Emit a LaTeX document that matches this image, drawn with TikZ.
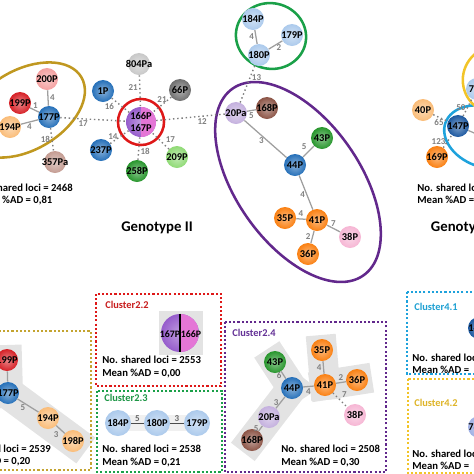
\documentclass[tikz,border=0pt]{standalone}
\usepackage{fontspec}
\setmainfont{Carlito}
\usetikzlibrary{backgrounds}
\definecolor{nodeBlue}{RGB}{38,112,185}
\definecolor{nodeNavy}{RGB}{28,88,160}
\definecolor{nodeRed}{RGB}{214,32,38}
\definecolor{nodePink}{RGB}{244,160,160}
\definecolor{nodePeach}{RGB}{250,188,120}
\definecolor{nodeTaupe}{RGB}{196,156,146}
\definecolor{nodeSilver}{RGB}{200,200,200}
\definecolor{nodeSlate}{RGB}{112,112,112}
\definecolor{nodeGreen}{RGB}{40,150,45}
\definecolor{nodeLime}{RGB}{144,218,118}
\definecolor{nodeLilac}{RGB}{196,176,222}
\definecolor{nodeBrown}{RGB}{140,84,70}
\definecolor{nodeOrange}{RGB}{250,128,18}
\definecolor{nodeRose}{RGB}{246,182,212}
\definecolor{nodeSky}{RGB}{172,202,236}
\definecolor{nodeIris}{RGB}{160,176,228}
\definecolor{nodePurple}{RGB}{150,92,204}
\definecolor{nodeMagenta}{RGB}{228,118,214}
\definecolor{ringGold}{RGB}{192,152,32}
\definecolor{ringRed}{RGB}{222,24,24}
\definecolor{ringGreen}{RGB}{26,160,72}
\definecolor{ringPurple}{RGB}{98,40,140}
\definecolor{ringCyan}{RGB}{30,162,220}
\definecolor{ringYellow}{RGB}{242,196,40}
\definecolor{boxOlive}{RGB}{196,164,48}
\definecolor{titleRed}{RGB}{200,30,30}
\definecolor{titleGreen}{RGB}{30,150,70}
\definecolor{titlePurple}{RGB}{100,50,150}
\definecolor{titleCyan}{RGB}{30,160,210}
\definecolor{titleGold}{RGB}{222,180,40}
\newcommand{\isoTxt}[1]{\makebox[0pt]{#1}}
\tikzset{
  mstNode/.style = {circle, minimum size=0.55cm, inner sep=0pt,
                    inner color=#1!55!white, outer color=#1,
                    font=\fontsize{7.4}{8.5}\selectfont\bfseries},
  mstLink/.style = {draw=gray!75, line width=0.9pt},
  mstDot/.style  = {draw=gray!55!black!70, line width=1pt, dotted},
  mstLbl/.style  = {font=\fontsize{6.4}{7}\selectfont\bfseries, text=gray,
                    inner sep=1pt},
  grpRing/.style = {draw=#1, line width=1.8pt},
  clBox/.style   = {draw=#1, line width=1.8pt, dash pattern=on 1.5pt off 1.5pt},
  clTitle/.style = {anchor=west, text=#1, inner sep=0pt,
                    font=\fontsize{7.4}{8}\selectfont\bfseries},
  clStat/.style  = {align=left, inner sep=0pt,
                    font=\fontsize{7.6}{8.6}\selectfont\bfseries},
  clBand/.style  = {draw=gray!22, line width=#1, line cap=rect},
}
\begin{document}
\begin{tikzpicture}[x=0.025cm, y=-0.025cm]
  \useasboundingbox (0,0) rectangle (474,474);
  \clip (0,0) rectangle (474,474);

  % group rings
  \draw[grpRing=ringGold, rotate around={30:(25,110)}] (25,110) ellipse [x radius=1.63cm, y radius=1cm];
  \draw[grpRing=ringGreen, rotate around={-12:(271,36)}] (271,36) ellipse [x radius=0.88cm, y radius=0.82cm];
  \draw[grpRing=ringPurple, rotate around={-55:(298,182)}] (298,182) ellipse [x radius=2.85cm, y radius=1.55cm];
  \draw[grpRing=ringCyan, rotate around={-20:(485,137)}] (485,137) ellipse [x radius=1.05cm, y radius=0.75cm];
  \draw[grpRing=ringYellow] (500,80) ellipse [x radius=0.93cm, y radius=0.88cm];

  % genotype II
  \node[mstNode=nodePink]   (g200) at (47,79)   {\isoTxt{200P}};
  \node[mstNode=nodeRed]    (g199) at (20,103)  {\isoTxt{199P}};
  \node[mstNode=nodeBlue]   (g177) at (49,117)  {\isoTxt{177P}};
  \node[mstNode=nodePeach]  (g194) at (10,127)  {\isoTxt{194P}};
  \node[mstNode=nodeTaupe]  (g357) at (55,162)  {\isoTxt{357Pa}};
  \node[circle, minimum size=0.75cm, inner sep=0pt, align=center,
        inner color=nodePurple!60!white, outer color=nodePurple,
        path picture={\fill[nodeMagenta] (path picture bounding box.north)
          rectangle (path picture bounding box.south east);},
        font=\fontsize{7.4}{8.5}\selectfont\bfseries]
        (g166) at (141,122) {\isoTxt{166P}\\\isoTxt{167P}};
  \node[circle, draw=ringRed, line width=1.8pt, minimum size=1.15cm] (g166ring) at (g166) {};
  \node[mstNode=nodeSilver] (g804) at (139,64)  {\isoTxt{804Pa}};
  \node[mstNode=nodeBlue]   (g1)   at (103,91)  {\isoTxt{1P}};
  \node[mstNode=nodeSlate]  (g66)  at (180,90)  {\isoTxt{66P}};
  \node[mstNode=nodeBlue]   (g237) at (101,150) {\isoTxt{237P}};
  \node[mstNode=nodeGreen]  (g258) at (137,171) {\isoTxt{258P}};
  \node[mstNode=nodeLime]   (g209) at (177,157) {\isoTxt{209P}};
  \node[mstNode=nodeLilac]  (g20)  at (236,113) {\isoTxt{20Pa}};
  \node[mstNode=nodeBrown]  (g168) at (267,108) {\isoTxt{168P}};
  \node[mstNode=nodeSky]    (g184) at (253,19)  {\isoTxt{184P}};
  \node[mstNode=nodeSky]    (g179) at (292,35)  {\isoTxt{179P}};
  \node[mstNode=nodeSky]    (g180) at (259,55)  {\isoTxt{180P}};
  \node[mstNode=nodeBlue]   (g44)  at (295,165) {\isoTxt{44P}};
  \node[mstNode=nodeGreen]  (g43)  at (322,138) {\isoTxt{43P}};
  \node[mstNode=nodeOrange] (g41)  at (317,220) {\isoTxt{41P}};
  \node[mstNode=nodeOrange] (g35)  at (285,218) {\isoTxt{35P}};
  \node[mstNode=nodeOrange] (g36)  at (308,254) {\isoTxt{36P}};
  \node[mstNode=nodeRose]   (g38)  at (350,237) {\isoTxt{38P}};

  \draw[mstLink] (g200) -- node[mstLbl, right] {4} (g177);
  \draw[mstLink] (g199) -- node[mstLbl, above, pos=.6] {1} (g177);
  \draw[mstLink] (g194) -- node[mstLbl, below] {4} (g177);
  \draw[mstDot] (g177) -- node[mstLbl, left] {18} (g357);
  \draw[mstDot] (g177) -- node[mstLbl, below, pos=.35] {17} (g166);
  \draw[mstDot] (g1) -- node[mstLbl, below left, pos=.25] {16} (g166);
  \draw[mstDot] (g804) -- node[mstLbl, left, pos=.4] {21} (g166);
  \draw[mstDot] (g66) -- node[mstLbl, above] {21} (g166);
  \draw[mstDot] (g237) -- node[mstLbl, above, pos=.15] {14} (g166);
  \draw[mstDot] (g258) -- node[mstLbl, right, pos=.35] {18} (g166);
  \draw[mstDot] (g209) -- node[mstLbl, above right, pos=.3] {17} (g166);
  \draw[mstDot] (g166) -- node[mstLbl, below, pos=.67] {12} (g20);
  \draw[mstDot] (g20) -- node[mstLbl, right, pos=.66] {13} (g180);
  \draw[mstLink] (g20) -- node[mstLbl, below] {5} (g168);
  \draw[mstLink] (g20) -- node[mstLbl, below, pos=.4] {3} (g44);
  \draw[mstLink] (g184) -- node[mstLbl, left] {4} (g180);
  \draw[mstLink] (g179) -- node[mstLbl, below, pos=.25] {2} (g180);
  \draw[mstLink] (g44) -- node[mstLbl, above left] {5} (g43);
  \draw[mstLink] (g44) -- node[mstLbl, left, pos=.57] {4} (g41);
  \draw[mstLink] (g35) -- node[mstLbl, above] {4} (g41);
  \draw[mstLink] (g41) -- node[mstLbl, above] {7} (g38);
  \draw[mstLink] (g41) -- node[mstLbl, left] {2} (g36);

  \node[clStat, anchor=east] (g2stat) at (73,194.5) {No. shared loci = 2468\\Mean \%AD = 0,81};
  \node[font=\fontsize{10.5}{12}\selectfont\bfseries] (g2name) at (157,228) {Genotype II};

  % genotype IV (cut at the right)
  \node[mstNode=nodePeach]  (g40)  at (423,110) {\isoTxt{40P}};
  \node[mstNode=nodeNavy]   (g147) at (458,126) {\isoTxt{147P}};
  \node[mstNode=nodeOrange] (g169) at (437,157) {\isoTxt{169P}};
  \node[mstNode=nodeSky]    (g73)  at (477,89)  {\isoTxt{73P}};
  \coordinate (g147out) at (495,142);
  \draw[mstDot] (g40) -- node[mstLbl, below, pos=.4] {65} (g147);
  \draw[mstDot] (g169) -- node[mstLbl, left] {123} (g147);
  \draw[mstDot] (g147) -- node[mstLbl, left] {50} (g73);
  \draw[mstLink] (g147) -- (g147out);
  \node[clStat, anchor=west] (g4stat) at (417,194) {No. shared loci =\\Mean \%AD =};
  \node[font=\fontsize{10.5}{12}\selectfont\bfseries, anchor=west] (g4name) at (426,228) {Genotype IV};

  % cluster boxes
  \draw[clBox=boxOlive] (-5,331) rectangle (91,470);
  \draw[clBox=ringRed] (96,294) rectangle (221,386);
  \draw[clBox=ringGreen] (97,391) rectangle (222,472);
  \draw[clBox=ringPurple] (225,322) rectangle (386,472);
  \draw[clBox=ringCyan] (407,292) rectangle (484,374);
  \draw[clBox=ringYellow] (408,379) rectangle (484,473);

  % cluster 2.1
  \node[mstNode=nodeRed]   (c199) at (7,360)  {\isoTxt{199P}};
  \node[mstNode=nodeBlue]  (c177) at (8,393)  {\isoTxt{177P}};
  \node[mstNode=nodePeach] (c194) at (48,418) {\isoTxt{194P}};
  \node[mstNode=nodePeach] (c198) at (73,441) {\isoTxt{198P}};
  \draw[mstLink] (c199) -- (c177);
  \draw[mstLink] (c177) -- node[mstLbl, below, pos=.25] {5} (c194);
  \draw[mstLink] (c194) -- node[mstLbl, below left] {3} (c198);
  \node[clStat, anchor=east] (c21stat) at (51,455.5) {No. shared loci = 2539\\Mean \%AD = 0,20};

  % cluster 2.2
  \node[clTitle=titleRed] (c22name) at (105,305) {Cluster2.2};
  \node[fill=gray!22, minimum size=1.08cm, inner sep=0pt] (c22sq) at (181,333) {};
  \node[circle, minimum size=0.95cm, inner sep=0pt,
        inner color=nodePurple!60!white, outer color=nodePurple,
        path picture={\fill[nodeMagenta] (path picture bounding box.north)
          rectangle (path picture bounding box.south east);}] (c166) at (180,333) {};
  \draw[black, line width=0.9pt] (c166.north) -- (c166.south);
  \node[font=\fontsize{7}{8}\selectfont\bfseries] (c167txt) at (170,334) {167P};
  \node[font=\fontsize{7}{8}\selectfont\bfseries] (c166txt) at (191,334) {166P};
  \node[clStat, anchor=west] (c22stat) at (102,367) {No. shared loci = 2553\\Mean \%AD = 0,00};

  % cluster 2.3
  \node[clTitle=titleGreen] (c23name) at (104,398) {Cluster2.3};
  \node[mstNode=nodeSky, minimum size=0.65cm] (c184) at (118,423) {\isoTxt{184P}};
  \node[mstNode=nodeSky, minimum size=0.65cm] (c180) at (157,423) {\isoTxt{180P}};
  \node[mstNode=nodeSky, minimum size=0.65cm] (c179) at (197,423) {\isoTxt{179P}};
  \draw[draw=black!70, line width=0.6pt] (c184) -- node[mstLbl, above, text=black!60] {5} (c180);
  \draw[draw=black!70, line width=0.6pt] (c180) -- node[mstLbl, above, text=black!60] {3} (c179);
  \node[clStat, anchor=west] (c23stat) at (102,456) {No. shared loci = 2538\\Mean \%AD = 0,21};

  % cluster 2.4
  \node[clTitle=titlePurple] (c24name) at (232,333) {Cluster2.4};
  \node[mstNode=nodeGreen]  (c43)  at (275,362) {\isoTxt{43P}};
  \node[mstNode=nodeBlue]   (c44)  at (292,388) {\isoTxt{44P}};
  \node[mstNode=nodeLilac]  (c20)  at (269,417) {\isoTxt{20Pa}};
  \node[mstNode=nodeBrown]  (c168) at (252,440) {\isoTxt{168P}};
  \node[mstNode=nodeOrange] (c35)  at (322,350) {\isoTxt{35P}};
  \node[mstNode=nodeOrange] (c41)  at (325,385) {\isoTxt{41P}};
  \node[mstNode=nodeOrange] (c36)  at (357,380) {\isoTxt{36P}};
  \node[mstNode=nodeRose]   (c38)  at (355,415) {\isoTxt{38P}};
  \draw[mstLink] (c43) -- node[mstLbl, left] {6} (c44);
  \draw[mstLink] (c44) -- node[mstLbl, left] {3} (c20);
  \draw[mstLink] (c20) -- node[mstLbl, left] {5} (c168);
  \draw[mstLink] (c44) -- node[mstLbl, below] {4} (c41);
  \draw[mstLink] (c35) -- node[mstLbl, left] {4} (c41);
  \draw[mstLink] (c41) -- node[mstLbl, above] {2} (c36);
  \draw[mstDot] (c41) -- node[mstLbl, above right] {7} (c38);
  \node[clStat, anchor=west] (c24stat) at (281,456) {No. shared loci = 2508\\Mean \%AD = 0,30};

  % cluster 4.1 and 4.2
  \node[clTitle=titleCyan] (c41name) at (414,307) {Cluster4.1};
  \node[mstNode=nodeNavy] (c147) at (479,328) {\isoTxt{147P}};
  \node[clStat, anchor=west] (c41stat) at (412,364) {No. shared loci =\\Mean \%AD =};
  \node[clTitle=titleGold] (c42name) at (414,403) {Cluster4.2};
  \node[mstNode=nodeIris] (c782) at (479,427) {\isoTxt{782P}};
  \node[clStat, anchor=west] (c42stat) at (412,460) {No. shared loci =\\Mean \%AD =};

  \begin{scope}[on background layer]
    \draw[clBand=0.75cm] (c199.center) -- (c177.center);
    \draw[clBand=0.8cm] (c177.center) -- (c198.center);
    \draw[clBand=0.42cm, draw=gray!12] (c184.center) -- (c179.center);
    \draw[clBand=0.75cm] (c43.center) -- (c44.center);
    \draw[clBand=0.75cm] (c44.center) -- (c168.center);
    \draw[clBand=0.75cm] (c35.center) -- (c41.center);
    \draw[clBand=0.75cm] (c41.center) -- (c36.center);
  \end{scope}
\end{tikzpicture}
\end{document}
